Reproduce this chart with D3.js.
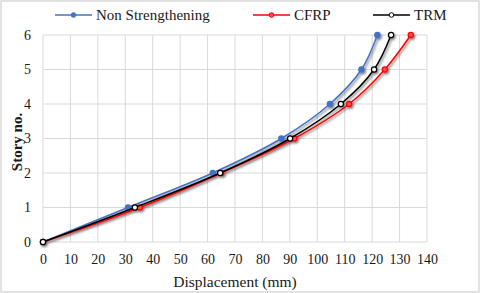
<!DOCTYPE html>
<html><head><meta charset="utf-8">
<script src="https://cdn.jsdelivr.net/npm/d3@7"></script>
<style>body{margin:0;background:#fff}svg{display:block}svg text{font-family:'Liberation Serif','Times New Roman','DejaVu Serif',serif !important;fill:#1a1a1a}</style>
</head><body>
<script>
const stories = [0,1,2,3,4,5,6];
const nonStrengthening = [0,31.0,61.9,86.9,104.6,116.1,121.9];
const cfrp = [0,35.3,65.0,91.6,111.6,124.6,134.1];
const trm = [0,33.5,64.6,90.1,108.6,120.7,126.9];
const xTicks = [0,10,20,30,40,50,60,70,80,90,100,110,120,130,140];
const yTicks = [0,1,2,3,4,5,6];
const seriesNames = ["Non Strengthening","CFRP","TRM"];

const W=480,H=293;
const svg=d3.select("body").append("svg").attr("width",W).attr("height",H);
const defs=svg.append("defs");
const f=defs.append("filter").attr("id","sh").attr("x","-20%").attr("y","-20%").attr("width","140%").attr("height","140%");
f.append("feDropShadow").attr("dx",1.3).attr("dy",1.6).attr("stdDeviation",1.3).attr("flood-color","#000").attr("flood-opacity",0.55);

svg.append("rect").attr("x",1).attr("y",1).attr("width",W-2).attr("height",H-2).attr("fill","#fff").attr("stroke","#d9d9d9").attr("stroke-width",1.5);

const x=d3.scaleLinear().domain([0,140]).range([43,427]);
const y=d3.scaleLinear().domain([0,6]).range([242,35]);

const g=svg.append("g");
g.selectAll(".vg").data(xTicks).join("line").attr("x1",d=>x(d)).attr("x2",d=>x(d)).attr("y1",y(0)).attr("y2",y(6)).attr("stroke","#d9d9d9").attr("stroke-width",1);
g.selectAll(".hg").data(yTicks).join("line").attr("x1",x(0)).attr("x2",x(140)).attr("y1",d=>y(d)).attr("y2",d=>y(d)).attr("stroke","#d9d9d9").attr("stroke-width",1);

const xa=svg.append("g").attr("transform",`translate(0,${y(0)})`).call(d3.axisBottom(x).tickValues(xTicks).tickSize(0).tickPadding(12));
xa.attr("font-family",null).attr("font-size",null);
xa.select(".domain").remove();
xa.selectAll("text").style("font-size","14px");
const ya=svg.append("g").attr("transform",`translate(${x(0)},0)`).call(d3.axisLeft(y).tickValues(yTicks).tickFormat(d3.format("d")).tickSize(0).tickPadding(12));
ya.attr("font-family",null).attr("font-size",null);
ya.select(".domain").remove();
ya.selectAll("text").style("font-size","14px");

svg.append("text").attr("x",235).attr("y",287).attr("text-anchor","middle").style("font-size","15.5px").text("Displacement (mm)");
svg.append("text").attr("transform","translate(22,142) rotate(-90)").attr("text-anchor","middle").style("font-size","15px").attr("font-weight","bold").text("Story no.");

const series=[
 {name:seriesNames[0],vals:nonStrengthening,color:"#4472c4",fill:"#4472c4"},
 {name:seriesNames[1],vals:cfrp,color:"#ff0000",fill:"#ff5050"},
 {name:seriesNames[2],vals:trm,color:"#000000",fill:"#ffffff"}
];
const line=d3.line().x(d=>x(d[0])).y(d=>y(d[1])).curve(d3.curveCatmullRom.alpha(0.5));
const pg=svg.append("g").attr("filter","url(#sh)");
series.forEach(s=>{
  const pts=s.vals.map((v,i)=>[v,stories[i]]);
  pg.append("path").attr("d",line(pts)).attr("fill","none").attr("stroke",s.color).attr("stroke-width",1.5);
  pg.selectAll(null).data(pts).join("circle").attr("cx",d=>x(d[0])).attr("cy",d=>y(d[1])).attr("r",2.6)
    .attr("fill",s.fill).attr("stroke",s.color).attr("stroke-width",1.2);
});

const leg=[{s:series[0],x0:55},{s:series[1],x0:253},{s:series[2],x0:373}];
leg.forEach(l=>{
  const ly=15;
  svg.append("line").attr("x1",l.x0).attr("x2",l.x0+37).attr("y1",ly).attr("y2",ly).attr("stroke",l.s.color).attr("stroke-width",1.5);
  svg.append("circle").attr("cx",l.x0+18.5).attr("cy",ly).attr("r",2.3).attr("fill",l.s.fill).attr("stroke",l.s.color).attr("stroke-width",1);
  svg.append("text").attr("x",l.x0+41).attr("y",ly+5).style("font-size","15px").text(l.s.name);
});
</script>
</body></html>
